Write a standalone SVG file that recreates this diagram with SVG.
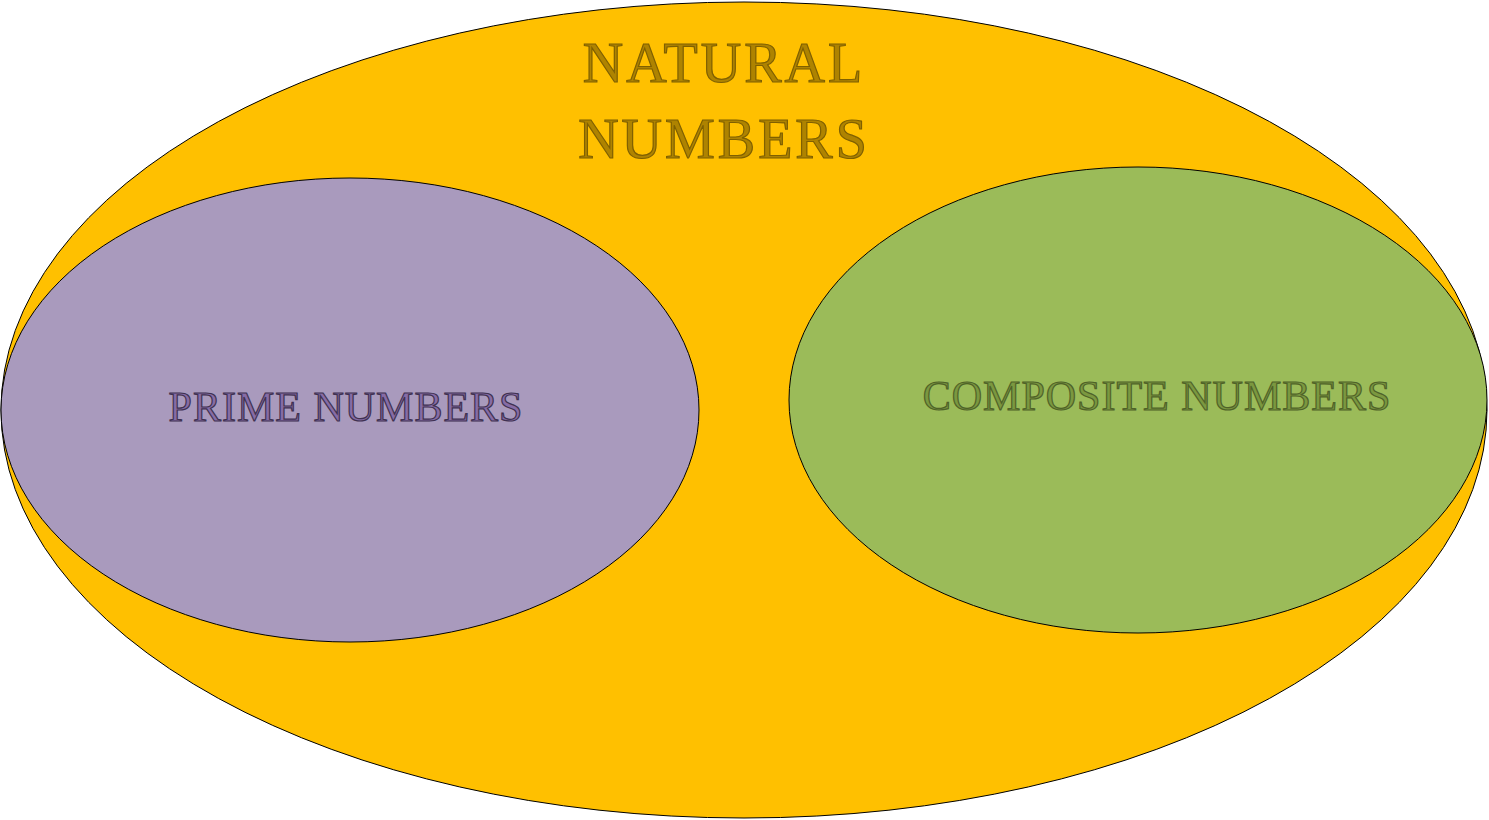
<svg xmlns="http://www.w3.org/2000/svg" width="1489" height="820" viewBox="0 0 1489 820">
<style>
.sh{stroke:#000;stroke-width:1}
.t{font-family:"Liberation Serif",serif;text-anchor:middle;stroke-width:1.2;fill-opacity:0.85}
</style>
<rect width="1489" height="820" fill="#fff"/>
<g id="natural">
<ellipse class="sh" cx="744" cy="410" rx="743" ry="408" fill="#ffc000"/>
<text class="t" x="724" y="82" font-size="56" fill="#a07800" stroke="#7f6000" letter-spacing="3">NATURAL</text>
<text class="t" x="724" y="158" font-size="56" fill="#a07800" stroke="#7f6000" letter-spacing="3">NUMBERS</text>
</g>
<g id="prime">
<ellipse class="sh" cx="350" cy="410" rx="349" ry="232" fill="#a99abd"/>
<text class="t" x="346" y="421" font-size="42" fill="#8064a2" stroke="#3f3151" letter-spacing="1">PRIME NUMBERS</text>
</g>
<g id="composite">
<ellipse class="sh" cx="1138" cy="400" rx="349" ry="233" fill="#9bbb59"/>
<text class="t" x="1157" y="410" font-size="42" fill="#76923c" stroke="#4f6228" letter-spacing="1">COMPOSITE NUMBERS</text>
</g>
<g id="connectors"/>
</svg>
